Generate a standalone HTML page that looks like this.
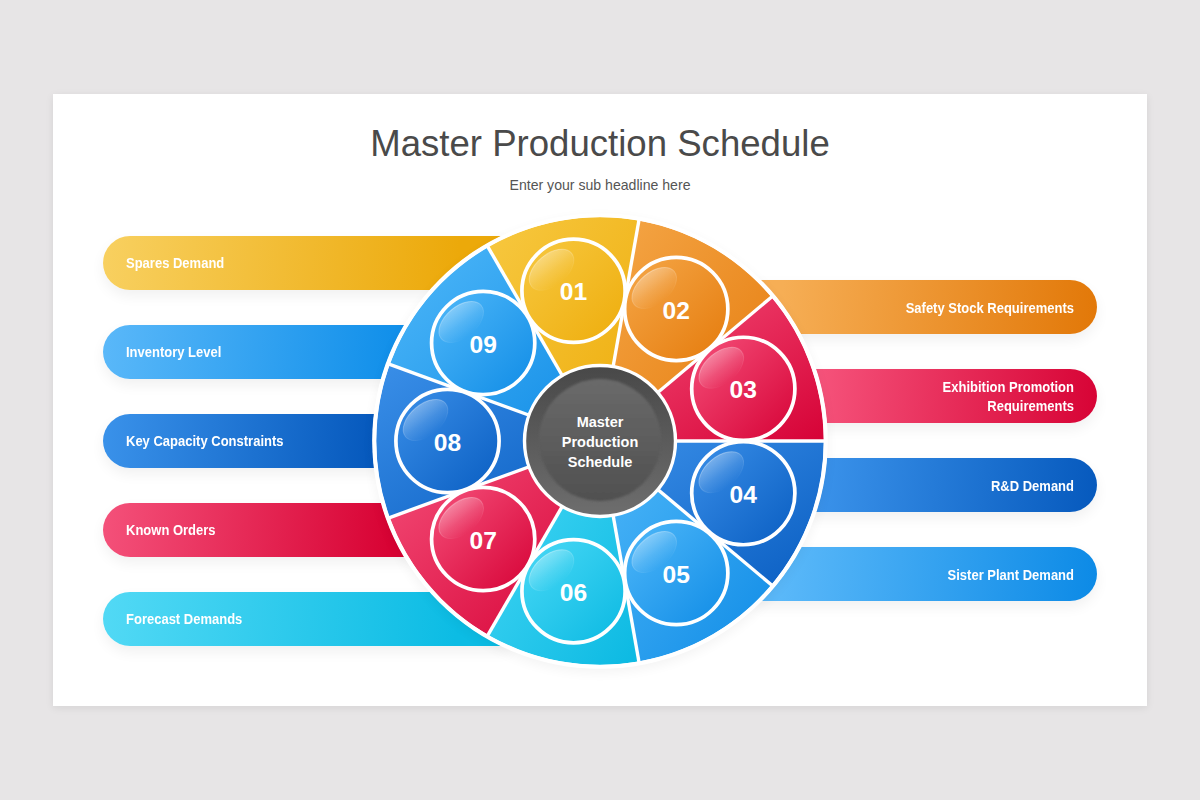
<!DOCTYPE html>
<html><head><meta charset="utf-8">
<style>
html,body{margin:0;padding:0;}
body{width:1200px;height:800px;background:#e7e5e6;position:relative;overflow:hidden;font-family:"Liberation Sans",sans-serif;}
.slide{position:absolute;left:53px;top:94px;width:1094px;height:612px;background:#fff;box-shadow:0 2px 8px rgba(0,0,0,0.08);}
.title{position:absolute;left:0;top:123px;width:1200px;text-align:center;font-size:36.6px;color:#4a4a4a;line-height:41px;}
.sub{position:absolute;left:0;top:177px;width:1200px;text-align:center;font-size:14.1px;color:#555555;line-height:16px;}
.pill{position:absolute;height:54px;border-radius:27px;box-shadow:0 6px 14px rgba(0,0,0,0.06);color:#fff;font-weight:bold;font-size:13px;display:flex;align-items:center;}
.pl{left:103px;border-radius:27px 0 0 27px;}
.pl span{margin-left:23px;display:inline-block;transform:scaleY(1.12);transform-origin:0 60%;position:relative;top:1px;}
.pr{border-radius:0 27px 27px 0;justify-content:flex-end;text-align:right;}
.pr span{margin-right:23px;line-height:17.1px;display:inline-block;transform:scaleY(1.12);transform-origin:0 60%;position:relative;top:1px;}
.wheel{position:absolute;left:0;top:0;}
.num{font-family:"Liberation Sans",sans-serif;font-weight:bold;font-size:24.6px;fill:#fff;text-anchor:middle;}
.ctr{font-family:"Liberation Sans",sans-serif;font-weight:bold;font-size:14.5px;fill:#fff;text-anchor:middle;}
</style></head><body>
<div class="slide"></div>
<div class="title">Master Production Schedule</div>
<div class="sub">Enter your sub headline here</div>
<div class="pill pl" style="top:235.8px;width:408px;background:linear-gradient(95deg,#f8d060 0px,#eca90a 356px)"><span>Spares Demand</span></div>
<div class="pill pl" style="top:324.8px;width:310px;background:linear-gradient(95deg,#5ab8f9 0px,#1290ea 288px)"><span>Inventory Level</span></div>
<div class="pill pl" style="top:413.8px;width:280px;background:linear-gradient(95deg,#3a92ea 0px,#0659bd 270px)"><span>Key Capacity Constraints</span></div>
<div class="pill pl" style="top:502.8px;width:310px;background:linear-gradient(95deg,#f4517a 0px,#d80334 288px)"><span>Known Orders</span></div>
<div class="pill pl" style="top:591.8px;width:407px;background:linear-gradient(95deg,#52d9f5 0px,#0cbce4 356px)"><span>Forecast Demands</span></div>
<div class="pill pr" style="top:280.4px;left:752px;width:345px;background:linear-gradient(95deg,#f6ae55 31px,#e27808 100%)"><span>Safety Stock Requirements</span></div>
<div class="pill pr two" style="top:369.4px;left:807px;width:290px;background:linear-gradient(95deg,#f5527a 15px,#d70335 100%)"><span>Exhibition Promotion<br>Requirements</span></div>
<div class="pill pr" style="top:458.4px;left:807px;width:290px;background:linear-gradient(95deg,#3a92ea 15px,#0659bd 100%)"><span>R&amp;D Demand</span></div>
<div class="pill pr" style="top:547.4px;left:753px;width:344px;background:linear-gradient(95deg,#5ab8f9 31px,#0c8ae6 100%)"><span>Sister Plant Demand</span></div>
<svg class="wheel" width="1200" height="800" viewBox="0 0 1200 800">
<defs>
<linearGradient id="g1" x1="0" y1="0" x2="1" y2="1"><stop offset="0" stop-color="#f7c840"/><stop offset="1" stop-color="#eead0c"/></linearGradient>
<linearGradient id="g2" x1="0" y1="0" x2="1" y2="1"><stop offset="0" stop-color="#f5a748"/><stop offset="1" stop-color="#e57b0c"/></linearGradient>
<linearGradient id="g3" x1="0" y1="0" x2="1" y2="1"><stop offset="0" stop-color="#f5507a"/><stop offset="1" stop-color="#d60236"/></linearGradient>
<linearGradient id="g4" x1="0" y1="0" x2="1" y2="1"><stop offset="0" stop-color="#3a8fe8"/><stop offset="1" stop-color="#0a5ec2"/></linearGradient>
<linearGradient id="g5" x1="0" y1="0" x2="1" y2="1"><stop offset="0" stop-color="#4fb8f9"/><stop offset="1" stop-color="#108ce6"/></linearGradient>
<linearGradient id="g6" x1="0" y1="0" x2="1" y2="1"><stop offset="0" stop-color="#4ad9f6"/><stop offset="1" stop-color="#0bb9e2"/></linearGradient>
<linearGradient id="g7" x1="0" y1="0" x2="1" y2="1"><stop offset="0" stop-color="#f5507a"/><stop offset="1" stop-color="#d60236"/></linearGradient>
<linearGradient id="g8" x1="0" y1="0" x2="1" y2="1"><stop offset="0" stop-color="#3a8fe8"/><stop offset="1" stop-color="#0a5ec2"/></linearGradient>
<linearGradient id="g9" x1="0" y1="0" x2="1" y2="1"><stop offset="0" stop-color="#4fb8f9"/><stop offset="1" stop-color="#108ce6"/></linearGradient>
<linearGradient id="hl" x1="0.55" y1="0" x2="0.45" y2="1"><stop offset="0" stop-color="#fff" stop-opacity="0.34"/><stop offset="0.55" stop-color="#fff" stop-opacity="0.12"/><stop offset="1" stop-color="#fff" stop-opacity="0"/></linearGradient>
<linearGradient id="hls" x1="0.55" y1="0" x2="0.45" y2="1"><stop offset="0" stop-color="#fff" stop-opacity="0.35"/><stop offset="0.6" stop-color="#fff" stop-opacity="0.15"/><stop offset="1" stop-color="#fff" stop-opacity="0"/></linearGradient>
<linearGradient id="ring" x1="0" y1="0" x2="0" y2="1"><stop offset="0" stop-color="#484848"/><stop offset="1" stop-color="#6e6e6e"/></linearGradient>
<linearGradient id="disc" x1="0" y1="0" x2="0" y2="1"><stop offset="0" stop-color="#6a6a6a"/><stop offset="1" stop-color="#505050"/></linearGradient>
<filter id="soft" x="-10%" y="-10%" width="120%" height="120%"><feGaussianBlur stdDeviation="1.2"/></filter>
<radialGradient id="cg" cx="0.4" cy="0.35" r="0.7"><stop offset="0" stop-color="#5e5e5e"/><stop offset="1" stop-color="#4a4a4a"/></radialGradient>
<filter id="wsh" x="-20%" y="-20%" width="140%" height="140%"><feGaussianBlur stdDeviation="6"/></filter>
</defs>
<circle cx="600.0" cy="445.0" r="228.0" fill="#000" opacity="0.045" filter="url(#wsh)"/>
<circle cx="600.0" cy="441.0" r="227.8" fill="#fff"/>
<path d="M600.0,441.0 L488.00,247.01 A224.0,224.0 0 0 1 638.90,220.40 Z" fill="url(#g1)"/>
<path d="M600.0,441.0 L638.90,220.40 A224.0,224.0 0 0 1 771.59,297.02 Z" fill="url(#g2)"/>
<path d="M600.0,441.0 L771.59,297.02 A224.0,224.0 0 0 1 824.00,441.00 Z" fill="url(#g3)"/>
<path d="M600.0,441.0 L824.00,441.00 A224.0,224.0 0 0 1 771.59,584.98 Z" fill="url(#g4)"/>
<path d="M600.0,441.0 L771.59,584.98 A224.0,224.0 0 0 1 638.90,661.60 Z" fill="url(#g5)"/>
<path d="M600.0,441.0 L638.90,661.60 A224.0,224.0 0 0 1 488.00,634.99 Z" fill="url(#g6)"/>
<path d="M600.0,441.0 L488.00,634.99 A224.0,224.0 0 0 1 389.51,517.61 Z" fill="url(#g7)"/>
<path d="M600.0,441.0 L389.51,517.61 A224.0,224.0 0 0 1 389.51,364.39 Z" fill="url(#g8)"/>
<path d="M600.0,441.0 L389.51,364.39 A224.0,224.0 0 0 1 488.00,247.01 Z" fill="url(#g9)"/>
<g stroke="#fff" stroke-width="3.4"><line x1="600.0" y1="441.0" x2="487.00" y2="245.28"/><line x1="600.0" y1="441.0" x2="639.24" y2="218.43"/><line x1="600.0" y1="441.0" x2="773.13" y2="295.73"/><line x1="600.0" y1="441.0" x2="826.00" y2="441.00"/><line x1="600.0" y1="441.0" x2="773.13" y2="586.27"/><line x1="600.0" y1="441.0" x2="639.24" y2="663.57"/><line x1="600.0" y1="441.0" x2="487.00" y2="636.72"/><line x1="600.0" y1="441.0" x2="387.63" y2="518.30"/><line x1="600.0" y1="441.0" x2="387.63" y2="363.70"/></g>
<circle cx="600.0" cy="441.0" r="225.5" fill="none" stroke="#fff" stroke-width="3.7"/>
<circle cx="600.0" cy="441.0" r="75.5" fill="url(#ring)" stroke="#fff" stroke-width="3.4"/>
<circle cx="600.0" cy="440.0" r="61" fill="url(#disc)" filter="url(#soft)"/>
<g><circle cx="573.52" cy="290.82" r="51.6" fill="url(#g1)" stroke="#fff" stroke-width="3.7"/><ellipse cx="551.52" cy="269.82" rx="26" ry="15.5" transform="rotate(-40 551.52 269.82)" fill="url(#hl)" stroke="url(#hls)" stroke-width="1"/><text x="573.52" y="300.42" class="num">01</text></g>
<g><circle cx="676.25" cy="308.93" r="51.6" fill="url(#g2)" stroke="#fff" stroke-width="3.7"/><ellipse cx="654.25" cy="287.93" rx="26" ry="15.5" transform="rotate(-40 654.25 287.93)" fill="url(#hl)" stroke="url(#hls)" stroke-width="1"/><text x="676.25" y="318.53" class="num">02</text></g>
<g><circle cx="743.30" cy="388.84" r="51.6" fill="url(#g3)" stroke="#fff" stroke-width="3.7"/><ellipse cx="721.30" cy="367.84" rx="26" ry="15.5" transform="rotate(-40 721.30 367.84)" fill="url(#hl)" stroke="url(#hls)" stroke-width="1"/><text x="743.30" y="398.44" class="num">03</text></g>
<g><circle cx="743.30" cy="493.16" r="51.6" fill="url(#g4)" stroke="#fff" stroke-width="3.7"/><ellipse cx="721.30" cy="472.16" rx="26" ry="15.5" transform="rotate(-40 721.30 472.16)" fill="url(#hl)" stroke="url(#hls)" stroke-width="1"/><text x="743.30" y="502.76" class="num">04</text></g>
<g><circle cx="676.25" cy="573.07" r="51.6" fill="url(#g5)" stroke="#fff" stroke-width="3.7"/><ellipse cx="654.25" cy="552.07" rx="26" ry="15.5" transform="rotate(-40 654.25 552.07)" fill="url(#hl)" stroke="url(#hls)" stroke-width="1"/><text x="676.25" y="582.67" class="num">05</text></g>
<g><circle cx="573.52" cy="591.18" r="51.6" fill="url(#g6)" stroke="#fff" stroke-width="3.7"/><ellipse cx="551.52" cy="570.18" rx="26" ry="15.5" transform="rotate(-40 551.52 570.18)" fill="url(#hl)" stroke="url(#hls)" stroke-width="1"/><text x="573.52" y="600.78" class="num">06</text></g>
<g><circle cx="483.18" cy="539.03" r="51.6" fill="url(#g7)" stroke="#fff" stroke-width="3.7"/><ellipse cx="461.18" cy="518.03" rx="26" ry="15.5" transform="rotate(-40 461.18 518.03)" fill="url(#hl)" stroke="url(#hls)" stroke-width="1"/><text x="483.18" y="548.63" class="num">07</text></g>
<g><circle cx="447.50" cy="441.00" r="51.6" fill="url(#g8)" stroke="#fff" stroke-width="3.7"/><ellipse cx="425.50" cy="420.00" rx="26" ry="15.5" transform="rotate(-40 425.50 420.00)" fill="url(#hl)" stroke="url(#hls)" stroke-width="1"/><text x="447.50" y="450.60" class="num">08</text></g>
<g><circle cx="483.18" cy="342.97" r="51.6" fill="url(#g9)" stroke="#fff" stroke-width="3.7"/><ellipse cx="461.18" cy="321.97" rx="26" ry="15.5" transform="rotate(-40 461.18 321.97)" fill="url(#hl)" stroke="url(#hls)" stroke-width="1"/><text x="483.18" y="352.57" class="num">09</text></g>
<text x="600" y="427" class="ctr">Master</text>
<text x="600" y="447" class="ctr">Production</text>
<text x="600" y="466.5" class="ctr">Schedule</text>
</svg>
</body></html>
